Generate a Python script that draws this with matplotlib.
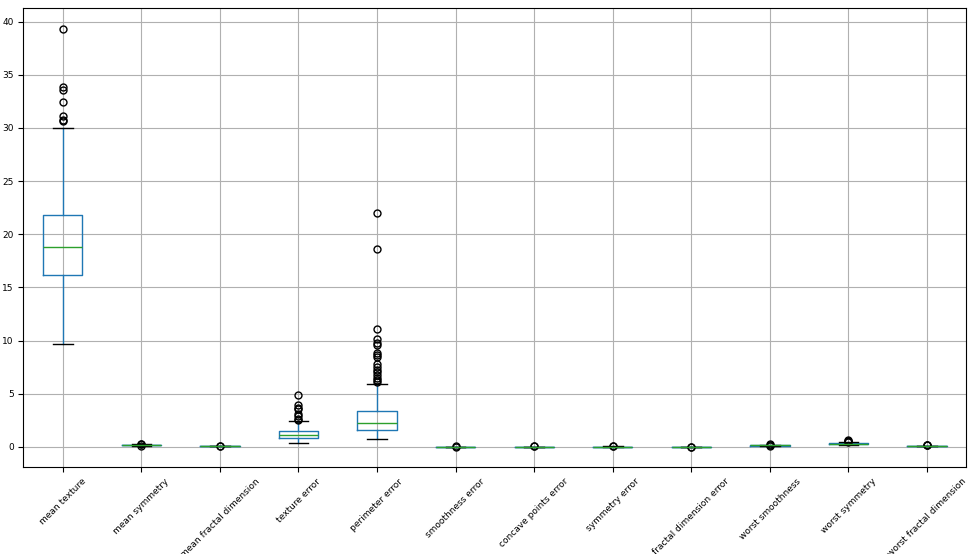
import matplotlib
matplotlib.use("Agg")
import matplotlib.pyplot as plt

names = ["mean texture", "mean symmetry", "mean fractal dimension", "texture error",
         "perimeter error", "smoothness error", "concave points error", "symmetry error",
         "fractal dimension error", "worst smoothness", "worst symmetry", "worst fractal dimension"]
q1 = [16.17, 0.1619, 0.0577, 0.834, 1.606, 0.0052, 0.0076, 0.0152, 0.0022, 0.1166, 0.2504, 0.0715]
med = [18.84, 0.1792, 0.0615, 1.108, 2.287, 0.0064, 0.0109, 0.0187, 0.0032, 0.1313, 0.2822, 0.0800]
q3 = [21.80, 0.1957, 0.0661, 1.474, 3.357, 0.0081, 0.0147, 0.0235, 0.0046, 0.1460, 0.3179, 0.0921]
lo = [9.71, 0.1167, 0.0500, 0.360, 0.757, 0.0017, 0.0, 0.0079, 0.0009, 0.0710, 0.1565, 0.0550]
hi = [30.0, 0.2459, 0.0780, 2.426, 5.900, 0.0126, 0.0256, 0.0360, 0.0080, 0.1900, 0.4182, 0.1234]
fliers = [
    [39.28, 33.81, 33.56, 32.47, 31.12, 30.72, 30.62],
    [0.304, 0.274, 0.106],
    [0.097, 0.090],
    [4.885, 3.896, 3.647, 3.568, 3.12, 2.90, 2.64, 2.50],
    [21.98, 18.65, 11.07, 10.12, 9.81, 9.60, 8.83, 8.65, 8.42, 7.80, 7.50, 7.25,
     7.03, 6.80, 6.50, 6.31, 6.10],
    [0.031, 0.024],
    [0.0528, 0.040],
    [0.079, 0.061],
    [0.0298, 0.022],
    [0.2226, 0.2184, 0.0712],
    [0.6638, 0.5774, 0.544, 0.49],
    [0.2075, 0.173, 0.15],
]

stats = [dict(label=n, q1=a, med=m, q3=b, whislo=l, whishi=h, fliers=f)
         for n, a, m, b, l, h, f in zip(names, q1, med, q3, lo, hi, fliers)]

fig, ax = plt.subplots(figsize=(9.79, 5.54), dpi=100)
ax.bxp(stats, boxprops=dict(color="C0"), whiskerprops=dict(color="C0"),
       medianprops=dict(color="C2"), capprops=dict(color="k"),
       flierprops=dict(marker="o", markersize=5, markerfacecolor="none", markeredgecolor="k"))
ax.grid(True)
ax.set_ylim(-1.9, 41.3)
ax.tick_params(axis="x", labelrotation=45, labelsize=6.5)
ax.tick_params(axis="y", labelsize=6.5)
plt.subplots_adjust(left=0.024, right=0.987, top=0.986, bottom=0.157)
fig.savefig("out.png")
